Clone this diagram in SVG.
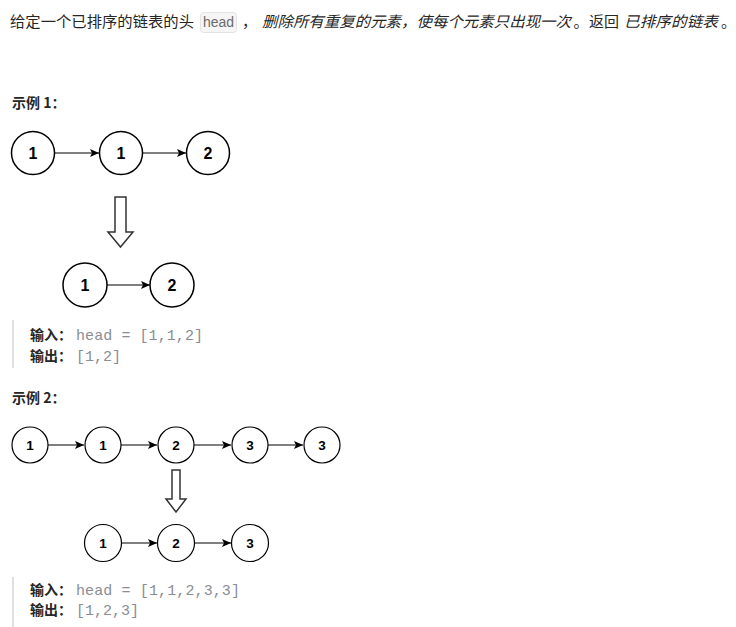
<svg xmlns="http://www.w3.org/2000/svg" width="736" height="627" viewBox="0 0 736 627">
<style>
.t{font-family:"Noto Sans CJK SC","Noto Sans",sans-serif;font-size:15px;fill:#262626}
.i{font-style:italic}
.h{font-family:"Noto Sans CJK SC","Liberation Sans",sans-serif;font-size:14px;font-weight:bold;fill:#262626}
.code{font-family:"Liberation Mono",monospace;font-size:15px;fill:#8a8d93}
.n1{fill:#fff;stroke:#000;stroke-width:1.5}
.n2{fill:#fff;stroke:#000;stroke-width:1.2}
.l1{font-family:"Liberation Sans",Arial,sans-serif;font-weight:bold;font-size:16px;fill:#000;text-anchor:middle}
.l2{font-family:"Liberation Sans",Arial,sans-serif;font-weight:bold;font-size:13.5px;fill:#000;text-anchor:middle}
.e{stroke:#000;stroke-width:1.2;fill:none}
.big{fill:#fff;stroke:#333;stroke-width:1.5;stroke-linejoin:miter}
.bar{fill:#e0e0e0}
</style>
<defs>
<marker id="ah" markerUnits="userSpaceOnUse" markerWidth="10" markerHeight="8" refX="9" refY="4" orient="auto">
<path d="M0,0 L9,4 L0,8 L2,4 z" fill="#000"/>
</marker>
</defs>

<g id="title">
<text class="t" x="10" y="27" textLength="184" lengthAdjust="spacingAndGlyphs">给定一个已排序的链表的头</text>
<rect x="200.5" y="12.5" width="36" height="20" rx="3" fill="#f5f5f5" stroke="#e3e3e3"/>
<text x="218.5" y="27" text-anchor="middle" style="font-family:'Liberation Sans',sans-serif;font-size:14px;fill:#6b6b6b">head</text>
<text class="t" x="242" y="27">，</text>
<text class="t i" x="262" y="27" textLength="309" lengthAdjust="spacingAndGlyphs">删除所有重复的元素，使每个元素只出现一次</text>
<text class="t" x="573.5" y="27">。</text>
<text class="t" x="589" y="27">返回</text>
<text class="t i" x="624" y="27" textLength="94" lengthAdjust="spacingAndGlyphs">已排序的链表</text>
<text class="t" x="721" y="27">。</text>
</g>

<g id="ex1-header"><text class="h" x="12" y="108">示例 1：</text></g>

<g id="connectors">
<line class="e" x1="55" y1="153" x2="99" y2="153" marker-end="url(#ah)"/>
<line class="e" x1="143" y1="153" x2="186" y2="153" marker-end="url(#ah)"/>
<line class="e" x1="107" y1="285" x2="150" y2="285" marker-end="url(#ah)"/>
<line class="e" x1="48" y1="445" x2="84" y2="445" marker-end="url(#ah)"/>
<line class="e" x1="121" y1="445" x2="157" y2="445" marker-end="url(#ah)"/>
<line class="e" x1="194" y1="445" x2="231" y2="445" marker-end="url(#ah)"/>
<line class="e" x1="268" y1="445" x2="303" y2="445" marker-end="url(#ah)"/>
<line class="e" x1="121" y1="543" x2="157" y2="543" marker-end="url(#ah)"/>
<line class="e" x1="194" y1="543" x2="231" y2="543" marker-end="url(#ah)"/>
<path class="big" d="M115,197 L126,197 L126,232 L133,232 L120.5,247 L108,232 L115,232 Z"/>
<path class="big" d="M172,470 L180,470 L180,499 L186,499 L176,512 L166,499 L172,499 Z"/>
</g>

<g id="a1"><circle class="n1" cx="33" cy="153" r="21.5"/><text class="l1" x="33" y="159">1</text></g>
<g id="a2"><circle class="n1" cx="121" cy="153" r="21.5"/><text class="l1" x="121" y="159">1</text></g>
<g id="a3"><circle class="n1" cx="208" cy="153" r="21.5"/><text class="l1" x="208" y="159">2</text></g>
<g id="b1"><circle class="n1" cx="85" cy="285" r="22"/><text class="l1" x="85" y="291">1</text></g>
<g id="b2"><circle class="n1" cx="172" cy="285" r="22"/><text class="l1" x="172" y="291">2</text></g>

<g id="ex1-io">
<rect class="bar" x="12" y="320" width="2" height="48"/>
<text class="h" x="30" y="340">输入：</text><text class="code" x="76" y="340" textLength="127" lengthAdjust="spacing">head = [1,1,2]</text>
<text class="h" x="30" y="361">输出：</text><text class="code" x="76" y="361">[1,2]</text>
</g>

<g id="ex2-header"><text class="h" x="12" y="403">示例 2：</text></g>

<g id="c1"><circle class="n2" cx="30" cy="445" r="18"/><text class="l2" x="30" y="450">1</text></g>
<g id="c2"><circle class="n2" cx="103" cy="445" r="18"/><text class="l2" x="103" y="450">1</text></g>
<g id="c3"><circle class="n2" cx="176" cy="445" r="18"/><text class="l2" x="176" y="450">2</text></g>
<g id="c4"><circle class="n2" cx="250" cy="445" r="18"/><text class="l2" x="250" y="450">3</text></g>
<g id="c5"><circle class="n2" cx="322" cy="445" r="18"/><text class="l2" x="322" y="450">3</text></g>
<g id="d1"><circle class="n2" cx="103" cy="543" r="18.5"/><text class="l2" x="103" y="548">1</text></g>
<g id="d2"><circle class="n2" cx="176" cy="543" r="18.5"/><text class="l2" x="176" y="548">2</text></g>
<g id="d3"><circle class="n2" cx="250" cy="543" r="18.5"/><text class="l2" x="250" y="548">3</text></g>

<g id="ex2-io">
<rect class="bar" x="12" y="577" width="2" height="50"/>
<text class="h" x="30" y="595">输入：</text><text class="code" x="76" y="595" textLength="164" lengthAdjust="spacing">head = [1,1,2,3,3]</text>
<text class="h" x="30" y="615">输出：</text><text class="code" x="76" y="615">[1,2,3]</text>
</g>
</svg>
